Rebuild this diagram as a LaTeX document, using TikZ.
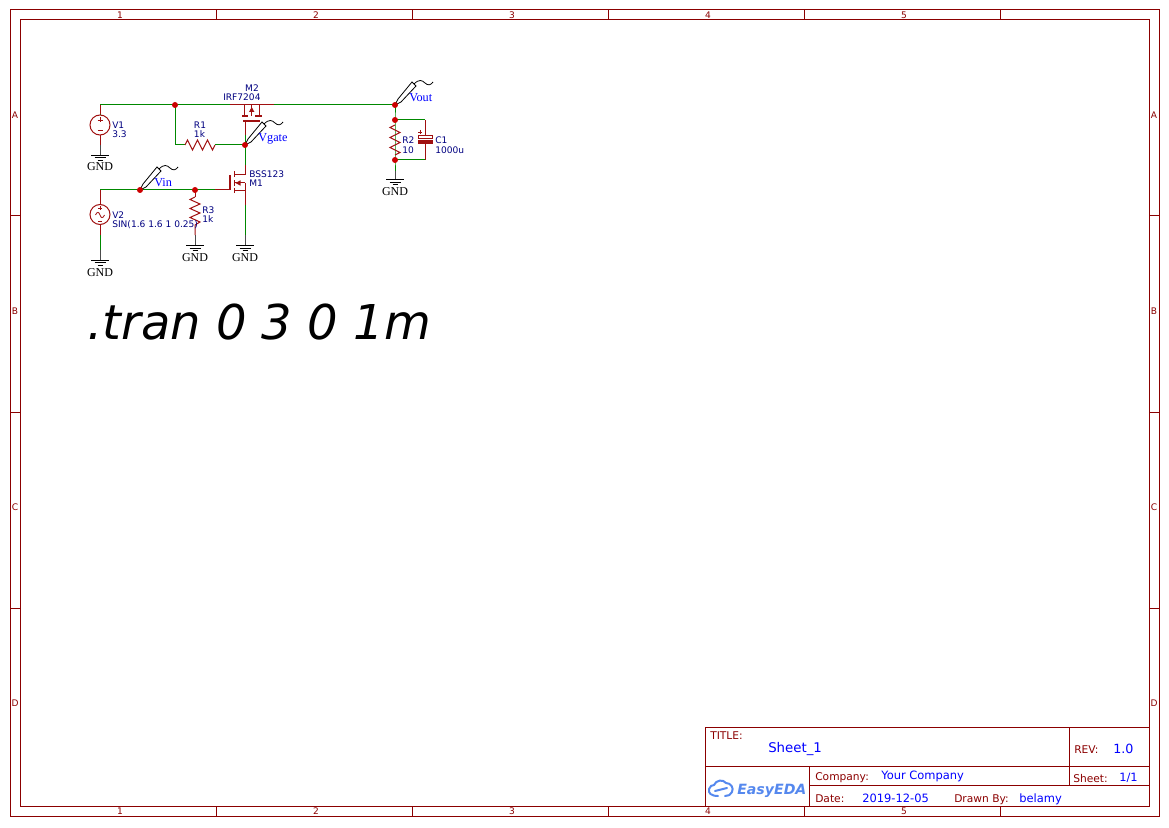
\documentclass[tikz,border=0pt]{standalone}
\usepackage{fontspec}
\setmainfont{DejaVu Sans}
\newfontfamily\serfont{Liberation Serif}
\usepackage{xcolor}
\definecolor{framered}{HTML}{8B0000}
\definecolor{symbred}{HTML}{A01010}
\definecolor{wiregreen}{HTML}{008800}
\definecolor{labelblue}{HTML}{000080}
\definecolor{logoblue}{HTML}{5588EE}
\tikzset{
	frameline/.style={draw=framered, line width=0.75pt}, % sheet border and title block
	wire/.style={draw=wiregreen, line width=0.75pt}, % green nets
	symb/.style={draw=symbred, line width=0.75pt}, % part outlines and pins
	gndpin/.style={draw=black!70, line width=0.75pt},
	junction/.style={circle, fill=red!80!black, inner sep=0pt, minimum size=4.5pt},
	partlabel/.style={text=labelblue, font=\fontsize{6.8}{8}\selectfont, anchor=base west, inner sep=0pt},
	framelabel/.style={text=framered, font=\fontsize{6.8}{8}\selectfont, inner sep=0pt},
	blocklabel/.style={text=framered, font=\fontsize{8}{10}\selectfont, anchor=base west, inner sep=0pt},
	blockvalue/.style={text=blue, font=\fontsize{8.6}{10}\selectfont, anchor=base west, inner sep=0pt},
	gndlabel/.style={text=black, font=\serfont\fontsize{9}{10}\selectfont, anchor=base, inner sep=0pt},
	probelabel/.style={text=blue, font=\serfont\fontsize{9.2}{10}\selectfont, anchor=base west, inner sep=0pt},
	probe/.pic={
		\draw[black, line width=0.6pt, fill=white] (0,0) -- (3,-6) -- (17,-23) -- (21,-19) -- (6,-3) -- cycle;
		\draw[black, line width=0.6pt] (19,-21) .. controls (24,-26) and (27,-25) .. (30,-22)
			.. controls (33,-19) and (36,-20) .. (38,-23);
	},
	gndsym/.pic={
		\draw[black, line width=0.75pt] (-9,0) -- (9,0) (-5.5,2.5) -- (5.5,2.5) (-2.5,5) -- (2.5,5);
	},
	resv/.pic={
		\draw[symb] (0,0) -- (-5,2.5) -- (5,7.5) -- (-5,12.5) -- (5,17.5) -- (-5,22.5) -- (5,27.5) -- (0,30);
	},
}
\begin{document}
\begin{tikzpicture}[x=0.75pt, y=-0.75pt]
	\useasboundingbox (0,0) rectangle (1169,827);
	
	% Sheet border
	\draw[frameline] (10,10) rectangle (1159,816.5);
	\draw[frameline] (20,20) rectangle (1149,806);
	\foreach \xpos in {216,412,608,804,1000} {
		\draw[frameline] (\xpos,10) -- (\xpos,20);
		\draw[frameline] (\xpos,806) -- (\xpos,816.5);
	}
	\foreach \ypos in {216,412,608} {
		\draw[frameline] (10,\ypos) -- (20,\ypos);
		\draw[frameline] (1149,\ypos) -- (1159,\ypos);
	}
	\foreach \xpos/\txt in {120/1,316/2,512/3,708/4,904/5} {
		\node[framelabel] (top\txt) at (\xpos,15) {\txt};
		\node[framelabel] (bot\txt) at (\xpos,811.5) {\txt};
	}
	\foreach \ypos/\txt in {115/A,311/B,507/C,703/D} {
		\node[framelabel] (left\txt) at (15,\ypos) {\txt};
		\node[framelabel] (right\txt) at (1154,\ypos) {\txt};
	}
	
	% Title block
	\draw[frameline] (705,727) rectangle (1149,806);
	\draw[frameline] (705,766) -- (1149,766);
	\draw[frameline] (809,785) -- (1149,785);
	\draw[frameline] (1069,727) -- (1069,785);
	\draw[frameline] (809,766) -- (809,806);
	\node[blocklabel] (titlelbl) at (710,739) {TITLE:};
	\node[blockvalue, font=\fontsize{10}{12}\selectfont] (titleval) at (768,752) {Sheet\_1};
	\node[blocklabel] (revlbl) at (1074,753) {REV:};
	\node[blockvalue, font=\fontsize{9.5}{12}\selectfont] (revval) at (1113,753) {1.0};
	\node[blocklabel] (complbl) at (815,780) {Company:};
	\node[blockvalue] (compval) at (881,779.5) {Your Company};
	\node[blocklabel] (sheetlbl) at (1073,782) {Sheet:};
	\node[blockvalue] (sheetval) at (1119,781.5) {1/1};
	\node[blocklabel] (datelbl) at (815,802) {Date:};
	\node[blockvalue] (dateval) at (862,802) {2019-12-05};
	\node[blocklabel] (drawnlbl) at (954,802) {Drawn By:};
	\node[blockvalue] (drawnval) at (1019,802) {belamy};
	
	% Logo
	\draw[logoblue, line width=1.5pt, line cap=round, line join=round]
		(718,796) .. controls (711,796) and (708,793) .. (709,789)
		.. controls (710,786) and (712,785) .. (714,785)
		.. controls (716,780) and (723,779) .. (726,783)
		.. controls (731,783) and (734,788) .. (732,792)
		.. controls (731,795) and (728,796) .. (725,796);
	\draw[logoblue, line width=1.5pt, line cap=round] (715,791) -- (727,788);
	\node[text=logoblue, font=\bfseries\itshape\fontsize{10.6}{12}\selectfont, anchor=base west, inner sep=0pt] (logotxt) at (737,794) {EasyEDA};
	
	% Command text
	\node[font=\itshape\fontsize{36}{40}\selectfont, text=black, anchor=base west, inner sep=0pt] (trancmd) at (87,339) {.tran 0 3 0 1m};
	
	% Net points
	\coordinate (v1top) at (100,105);
	\coordinate (v1pos) at (100,115);
	\coordinate (v1neg) at (100,135);
	\coordinate (v1pin) at (100,145);
	\coordinate (v1gnd) at (100,155.5);
	\coordinate (r1top) at (175,105);
	\coordinate (r1cor) at (175,145);
	\coordinate (r1a) at (185,145);
	\coordinate (r1b) at (215,145);
	\coordinate (gate) at (245,145);
	\coordinate (m2s) at (230,105);
	\coordinate (m2d) at (274,105);
	\coordinate (out) at (395,105);
	\coordinate (outb) at (395,120);
	\coordinate (outc) at (395,160);
	\coordinate (c1a) at (425,120);
	\coordinate (c1b) at (425,160);
	\coordinate (r2gnd) at (395,180);
	\coordinate (r2pin) at (395,171);
	\coordinate (v2top) at (100,190);
	\coordinate (v2pos) at (100,204);
	\coordinate (v2neg) at (100,225);
	\coordinate (v2pin) at (100,235);
	\coordinate (v2mid) at (100,250);
	\coordinate (v2gnd) at (100,260);
	\coordinate (vin) at (140,190);
	\coordinate (r3top) at (195,190);
	\coordinate (r3end) at (195,225);
	\coordinate (r3pin) at (195,235);
	\coordinate (r3gnd) at (195,245.5);
	\coordinate (m1g) at (215,190);
	\coordinate (m1d) at (245,165);
	\coordinate (m2g) at (245,135);
	\coordinate (m1s) at (245,205);
	\coordinate (m1p) at (245,235);
	\coordinate (m1gnd) at (245,245.5);
	
	% Nets
	\draw[wire] (v1pos) -- (v1top) -- (m2s);
	\draw[wire] (m2d) -- (out) -- (outb) -- (outc) -- (r2pin);
	\draw[wire] (r1top) -- (r1cor) -- (r1a);
	\draw[wire] (r1b) -- (gate);
	\draw[wire] (m2g) -- (m1d);
	\draw[wire] (outb) -- (c1a);
	\draw[wire] (outc) -- (c1b);
	\draw[wire] (v2pos) -- (v2top) -- (m1g);
	\draw[wire] (v2pin) -- (v2mid);
	\draw[wire] (m1s) -- (m1p);
	\draw[gndpin] (v1pin) -- (v1gnd);
	\draw[gndpin] (r2pin) -- (r2gnd);
	\draw[gndpin] (v2mid) -- (v2gnd);
	\draw[gndpin] (r3pin) -- (r3gnd);
	\draw[gndpin] (m1p) -- (m1gnd);
	
	% Sources
	\node[circle, symb, minimum size=15pt, inner sep=0pt] (V1) at (100,125) {};
	\node[circle, symb, minimum size=15pt, inner sep=0pt] (V2) at (100,214.5) {};
	\draw[symb] (v1top) -- (V1);
	\draw[symb] (V1) -- (v1pin);
	\draw[symb] (v2top) -- (V2);
	\draw[symb] (V2) -- (v2pin);
	\draw[symb, line width=0.6pt] (97.5,120) -- (102.5,120) (100,117.5) -- (100,122.5) (97.5,130) -- (102.5,130);
	\draw[symb, line width=0.6pt] (98,208.5) -- (102,208.5) (100,206.5) -- (100,210.5) (98,221) -- (102,221);
	\draw[symb, line width=0.6pt] (95.5,215) .. controls (97,211.5) and (99,211.5) .. (100,215)
		.. controls (101,218.5) and (103,218.5) .. (104.5,215);
	
	% Resistors
	\draw[symb] (r1a) -- (187.5,140) -- (192.5,150) -- (197.5,140) -- (202.5,150) -- (207.5,140) -- (212.5,150) -- (r1b);
	\pic at (395,125) {resv};
	\draw[symb] (r3top) -- (195,197);
	\draw[symb] (195,197) -- (190,199.5) -- (200,204) -- (190,208.5) -- (200,213) -- (190,217.5) -- (200,222) -- (r3end) -- (r3pin);
	
	% Capacitor
	\draw[symb] (c1a) -- (425,136);
	\draw[symb] (425,143) -- (c1b);
	\draw[symb, fill=white] (418,136) rectangle (432,138.5);
	\draw[symb, fill=symbred] (418,141) rectangle (432,143.3);
	\draw[symb, line width=0.6pt] (418,132) -- (422,132) (420,130) -- (420,134);
	
	% M2
	\draw[symb] (m2s) -- (m2d);
	\draw[symb, line width=1pt] (242,116) -- (248,116) (255,116) -- (262,116) (243,121) -- (260,121);
	\draw[symb] (244.5,105) -- (244.5,116) (259,105) -- (259,116) (251.7,105) -- (251.7,116);
	\fill[symbred] (251.7,107) -- (249,112) -- (254.4,112) -- cycle;
	\draw[symb] (245,121) -- (m2g);
	
	% M1
	\draw[symb] (m1g) -- (230,190);
	\draw[symb, line width=1pt] (230,175) -- (230,190);
	\draw[symb, line width=1pt] (234.3,171.5) -- (234.3,177) (234.3,180.5) -- (234.3,186) (234.3,188) -- (234.3,193.5);
	\draw[symb] (m1d) -- (245,174.3) -- (234.3,174.3);
	\draw[symb] (245,183) -- (234.3,183);
	\fill[symbred] (235.5,183) -- (240.5,180.3) -- (240.5,185.7) -- cycle;
	\draw[symb] (234.3,190.7) -- (245,190.7) -- (m1s);
	\draw[symb] (245,183) -- (245,190.7);
	
	% Ground symbols
	\pic at (v1gnd) {gndsym};
	\pic at (r2gnd) {gndsym};
	\pic at (v2gnd) {gndsym};
	\pic at (r3gnd) {gndsym};
	\pic at (m1gnd) {gndsym};
	\node[gndlabel] (gnd1) at (100,171) {GND};
	\node[gndlabel] (gnd2) at (395,196) {GND};
	\node[gndlabel] (gnd3) at (100,276) {GND};
	\node[gndlabel] (gnd4) at (195,261) {GND};
	\node[gndlabel] (gnd5) at (245,261) {GND};
	
	% Probes
	\pic at (out) {probe};
	\pic at (gate) {probe};
	\pic at (vin) {probe};
	\node[probelabel] (vout) at (409,102) {Vout};
	\node[probelabel] (vgate) at (258,142) {Vgate};
	\node[probelabel] (vinlbl) at (154,187) {Vin};
	
	% Junctions
	\foreach \pt in {r1top,gate,out,outb,outc,vin,r3top} {
		\node[junction] at (\pt) {};
	}
	
	% Part labels
	\node[partlabel, anchor=base] (m2ref) at (252,91.5) {M2};
	\node[partlabel] (m2val) at (223,100.5) {IRF7204};
	\node[partlabel, anchor=base] (r1ref) at (200,128.5) {R1};
	\node[partlabel, anchor=base] (r1val) at (199.5,137.5) {1k};
	\node[partlabel] (v1ref) at (112,128.5) {V1};
	\node[partlabel] (v1val) at (112,137.5) {3.3};
	\node[partlabel] (m1val) at (249,178) {BSS123};
	\node[partlabel] (m1ref) at (249,187) {M1};
	\node[partlabel] (v2ref) at (112,218.5) {V2};
	\node[partlabel] (v2val) at (112,228) {SIN(1.6 1.6 1 0.25)};
	\node[partlabel] (r3ref) at (202,213.5) {R3};
	\node[partlabel] (r3val) at (202,222.5) {1k};
	\node[partlabel] (r2ref) at (402,144) {R2};
	\node[partlabel] (r2val) at (402,153.5) {10};
	\node[partlabel] (c1ref) at (435,144) {C1};
	\node[partlabel] (c1val) at (435,153.5) {1000u};
\end{tikzpicture}
\end{document}
